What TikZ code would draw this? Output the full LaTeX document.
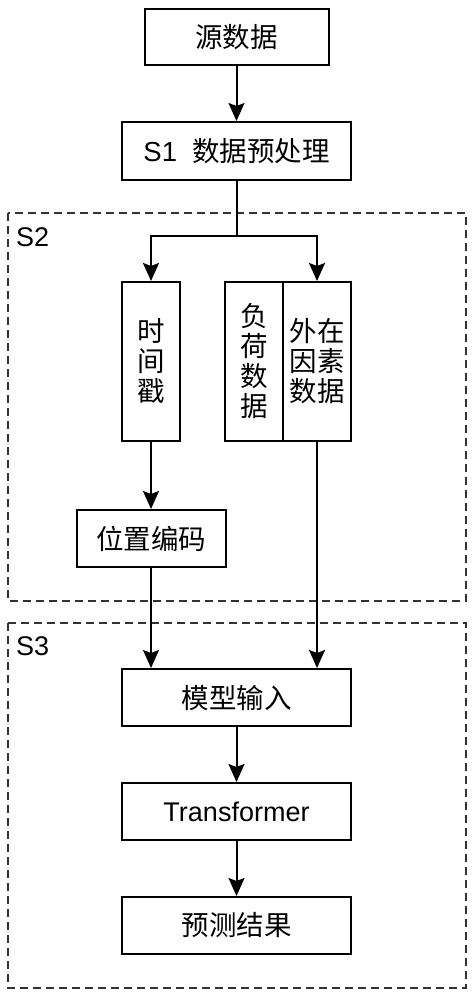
\documentclass[tikz,border=0pt]{standalone}
\usepackage{fontspec}
\setmainfont{Liberation Sans}
\newfontfamily\cjk{Noto Sans CJK SC}
\usetikzlibrary{arrows.meta,positioning}

\begin{document}
\begin{tikzpicture}[x=1pt,y=-1pt,
  box/.style={rectangle,draw,line width=2pt,inner sep=0pt,font=\fontsize{27.5}{30}\selectfont\cjk,align=center},
  flow/.style={line width=2pt,-{Stealth[length=18pt,width=16pt,inset=3pt]}},
  stage/.style={draw=black!80,line width=2pt,dash pattern=on 8pt off 5pt},
  tag/.style={anchor=north west,inner sep=0pt,font=\fontsize{27}{30}\selectfont}]
\useasboundingbox (0,0) rectangle (474,997);
\draw[stage] (8,213) rectangle (466,601);
\draw[stage] (8,623) rectangle (466,988);
\node [tag] (s2) at (16,227) {S2};
\node [tag] (s3) at (16,636) {S3};
\node [box,minimum width=184pt,minimum height=56pt] (src) at (236.5,37) {源数据};
\node [box,minimum width=229pt,minimum height=58pt] (pre) at (236.5,151) {{\setmainfont{Liberation Sans}\rmfamily S1}\hspace{15pt}数据预处理};
\node [box,minimum width=58pt,minimum height=159pt] (time) at (151,361.5) {时\\间\\戳};
\node [box,minimum width=58pt,minimum height=159pt] (load) at (254,361.5) {负\\荷\\数\\据};
\node [box,minimum width=68pt,minimum height=159pt,right=-2pt of load] (ext) {外在\\因素\\数据};
\node [box,minimum width=149pt,minimum height=57pt] (pos) at (151,538.5) {位置编码};
\node [box,minimum width=229pt,minimum height=57pt] (inp) at (236.5,697.5) {模型输入};
\node [box,minimum width=229pt,minimum height=57pt,below=55pt of inp,font=\fontsize{27}{30}\selectfont] (tf) {Transformer};
\node [box,minimum width=229pt,minimum height=57pt,below=55pt of tf] (res) {预测结果};
\coordinate (fork) at (236.5,236);
\draw[flow] (src) -- (pre);
\draw[line width=2pt] (pre.south) -- (fork);
\draw[flow] (fork) -| (time.north);
\draw[flow] (fork) -| (ext.north);
\draw[flow] (time) -- (pos);
\draw[flow] (pos.south) -- (pos.south |- inp.north);
\draw[flow] (ext.south) -- (ext.south |- inp.north);
\draw[flow] (inp) -- (tf);
\draw[flow] (tf) -- (res);
\end{tikzpicture}
\end{document}
